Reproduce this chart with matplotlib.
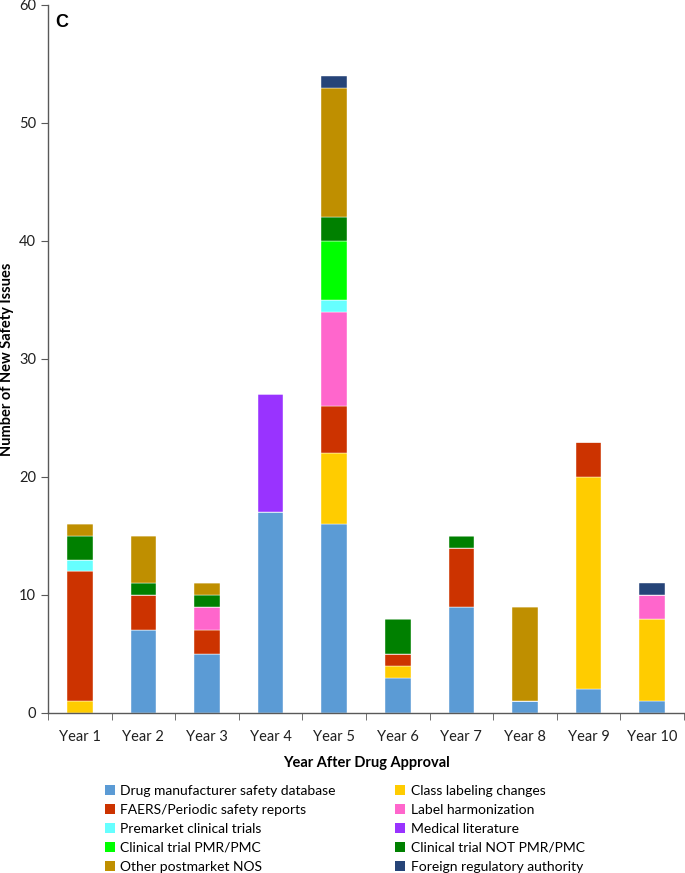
import numpy as np
import matplotlib.pyplot as plt
from matplotlib.patches import Patch

plt.rcParams['font.family'] = ['Lato', 'DejaVu Sans']

# 数据
years = ['Year 1', 'Year 2', 'Year 3', 'Year 4', 'Year 5',
         'Year 6', 'Year 7', 'Year 8', 'Year 9', 'Year 10']

drug_db = [0, 7, 5, 17, 16, 3, 9, 1, 2, 1]
class_label = [1, 0, 0, 0, 6, 1, 0, 0, 18, 7]
faers = [11, 3, 2, 0, 4, 1, 5, 0, 3, 0]
label_harm = [0, 0, 2, 0, 8, 0, 0, 0, 0, 2]
premarket = [1, 0, 0, 0, 1, 0, 0, 0, 0, 0]
med_lit = [0, 0, 0, 10, 0, 0, 0, 0, 0, 0]
pmr = [0, 0, 0, 0, 5, 0, 0, 0, 0, 0]
not_pmr = [2, 1, 1, 0, 2, 3, 1, 0, 0, 0]
other_nos = [1, 4, 1, 0, 11, 0, 0, 8, 0, 0]
foreign = [0, 0, 0, 0, 1, 0, 0, 0, 0, 1]

# 堆叠顺序（从下往上）
stack = [
    ('Drug manufacturer safety database', drug_db, '#5B9BD5'),
    ('Class labeling changes', class_label, '#FFCC00'),
    ('FAERS/Periodic safety reports', faers, '#CC3300'),
    ('Label harmonization', label_harm, '#FF66CC'),
    ('Premarket clinical trials', premarket, '#66FFFF'),
    ('Medical literature', med_lit, '#9933FF'),
    ('Clinical trial PMR/PMC', pmr, '#00FF00'),
    ('Clinical trial NOT PMR/PMC', not_pmr, '#008000'),
    ('Other postmarket NOS', other_nos, '#BF8F00'),
    ('Foreign regulatory authority', foreign, '#264478'),
]

fig = plt.figure(figsize=(6.85, 8.73), dpi=100)
ax = fig.add_axes([0.0701, 0.1833, 0.9284, 0.811])

x = np.arange(len(years))
bottom = np.zeros(len(years))
colors = {}
for name, vals, c in stack:
    vals = np.array(vals, dtype=float)
    ax.bar(x, vals, width=0.4, bottom=bottom, color=c,
           edgecolor='white', linewidth=0.3)
    bottom += vals
    colors[name] = c

ax.set_xlim(-0.5, len(years) - 0.5)
ax.set_ylim(0, 60)
ax.set_yticks(range(0, 61, 10))
ax.set_xticks(x)
ax.set_xticklabels(years)
ax.set_xticks(np.arange(-0.5, len(years), 1), minor=True)
ax.tick_params(axis='x', which='major', length=0, labelsize=10.5, colors='#202020', pad=12)
ax.tick_params(axis='x', which='minor', length=5, direction='out', color='#595959')
ax.tick_params(axis='y', length=5, direction='out', color='#595959', labelsize=10.5,
               labelcolor='#202020')
for s in ['top', 'right']:
    ax.spines[s].set_visible(False)
for s in ['left', 'bottom']:
    ax.spines[s].set_color('#595959')
    ax.spines[s].set_linewidth(1.0)

ax.set_ylabel('Number of New Safety Issues', fontsize=10.5, fontweight='bold', labelpad=4)
ax.set_xlabel('Year After Drug Approval', fontsize=10.5, fontweight='bold', labelpad=9)
ax.text(0.012, 0.987, 'C', transform=ax.transAxes, fontsize=13, fontweight='bold',
        va='top', ha='left', family=['Liberation Sans', 'DejaVu Sans'])

legend_order = ['Drug manufacturer safety database', 'FAERS/Periodic safety reports',
                'Premarket clinical trials', 'Clinical trial PMR/PMC', 'Other postmarket NOS',
                'Class labeling changes', 'Label harmonization', 'Medical literature',
                'Clinical trial NOT PMR/PMC', 'Foreign regulatory authority']
handles = [Patch(facecolor=colors[n], label=n) for n in legend_order]
fig.legend(handles=handles, loc='upper left', bbox_to_anchor=(0.145, 0.107), ncol=2,
           frameon=False, fontsize=10, handlelength=0.7, handleheight=0.7,
           handletextpad=0.4, labelspacing=0.5, columnspacing=4.3, borderaxespad=0)

fig.savefig('out.png', dpi=100)
